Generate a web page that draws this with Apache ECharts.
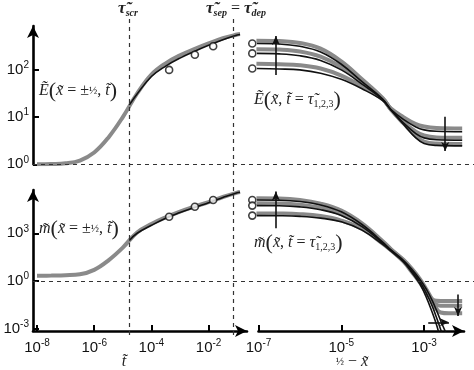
<!DOCTYPE html>
<html><head><meta charset="utf-8">
<script src="https://cdn.jsdelivr.net/npm/echarts@6/dist/echarts.min.js"></script>
<style>html,body{margin:0;padding:0;background:#fff}#c{width:474px;height:370px}</style>
</head><body><div id="c"></div>
<script>
// All values below are log10 exponents
const tauScr = -4.77, tauSep = -1.15;
const leftXTicks = [-8, -6, -4, -2];
const rightXTicks = [-7, -5, -3];
const topYTicks = [0, 1, 2];
const botYTicks = [-3, 0, 3];

// top-left: E(x = ±1/2, t)
const tlX     = [-8, -7.5, -7, -6.5, -6, -5.5, -5, -4.5, -4, -3.5, -3, -2.5, -2, -1.5, -1, -0.9];
const tlGray  = [0, 0.005, 0.02, 0.08, 0.25, 0.57, 1.0, 1.5, 1.9, 2.14, 2.31, 2.44, 2.56, 2.67, 2.75, 2.76];
const tlBlackX = [-4.77, -4.5, -4, -3.5, -3, -2.5, -2, -1.5, -1, -0.9];
const tlBlack  = [1.26, 1.49, 1.86, 2.08, 2.25, 2.39, 2.52, 2.64, 2.74, 2.75];
const tlCircX = [-3.38, -2.48, -1.84];
const tlCircY = [2.0, 2.32, 2.5];

// bottom-left: m(x = ±1/2, t)
const blX     = [-8, -7.5, -7, -6.5, -6, -5.5, -5, -4.5, -4, -3.5, -3, -2.5, -2, -1.5, -1, -0.9];
const blGray  = [0.33, 0.34, 0.36, 0.42, 0.7, 1.3, 2.1, 3.05, 3.58, 4.0, 4.36, 4.67, 4.96, 5.28, 5.56, 5.6];
const blBlackX = [-4.77, -4.5, -4, -3.5, -3, -2.5, -2, -1.5, -1, -0.9];
const blBlack  = [2.55, 3.0, 3.5, 3.95, 4.3, 4.62, 4.92, 5.25, 5.55, 5.58];
const blCircX = [-3.38, -2.48, -1.84];
const blCircY = [4.04, 4.67, 5.09];

// top-right: E(x, t = tau_1,2,3)
const trX = [-7.05, -6.5, -6, -5.5, -5, -4.5, -4, -3.8, -3.5, -3.2, -3, -2.7, -2.08];
const trBlack1 = [2.56, 2.55, 2.5, 2.38, 2.12, 1.75, 1.38, 1.15, 0.85, 0.56, 0.44, 0.40, 0.39];
const trBlack2 = [2.35, 2.34, 2.3, 2.2, 2.0, 1.7, 1.37, 1.15, 0.88, 0.65, 0.56, 0.52, 0.51];
const trBlack3 = [2.03, 2.02, 2.0, 1.93, 1.8, 1.6, 1.35, 1.16, 0.95, 0.79, 0.73, 0.70, 0.69];
const trGray1  = [2.62, 2.61, 2.57, 2.45, 2.18, 1.8, 1.4, 1.16, 0.87, 0.6, 0.48, 0.44, 0.43];
const trGray2  = [2.44, 2.43, 2.39, 2.28, 2.06, 1.74, 1.39, 1.16, 0.9, 0.69, 0.61, 0.57, 0.56];
const trGray3  = [2.13, 2.12, 2.1, 2.03, 1.88, 1.65, 1.38, 1.18, 1.0, 0.85, 0.8, 0.77, 0.76];
const trCircX = [-7.15, -7.15, -7.15];
const trCircY = [2.56, 2.35, 2.03];

// bottom-right: m(x, t = tau_1,2,3)
const brBlack1X = [-7.05, -6.5, -6, -5.5, -5, -4.5, -4, -3.8, -3.5, -3.3, -3.1, -2.95, -2.8, -2.7, -2.6, -2.5, -2.45];
const brBlack1  = [5.09, 5.08, 5.0, 4.78, 4.35, 3.55, 2.45, 1.95, 1.3, 0.75, 0.1, -0.5, -1.25, -1.85, -2.5, -3.1, -3.4];
const brBlack2X = [-7.05, -6.5, -6, -5.5, -5, -4.5, -4, -3.8, -3.5, -3.3, -3.1, -2.95, -2.8, -2.7, -2.6, -2.55];
const brBlack2  = [4.74, 4.73, 4.66, 4.48, 4.12, 3.42, 2.38, 1.92, 1.25, 0.65, -0.05, -0.75, -1.6, -2.3, -3.05, -3.4];
const brBlack3X = [-7.05, -6.5, -6, -5.5, -5, -4.5, -4, -3.8, -3.5, -3.3, -3.1, -2.95, -2.8, -2.7, -2.63];
const brBlack3  = [4.11, 4.10, 4.06, 3.95, 3.72, 3.2, 2.3, 1.88, 1.2, 0.55, -0.2, -1.0, -2.0, -2.75, -3.4];
const brGrayX = [-7.05, -6.5, -6, -5.5, -5, -4.5, -4, -3.8, -3.5, -3.3, -3.1, -2.95, -2.8, -2.7, -2.6, -2.4, -2.08];
const brGray1 = [5.2, 5.19, 5.1, 4.86, 4.42, 3.62, 2.5, 2.0, 1.33, 0.78, 0.12, -0.5, -1.2, -1.75, -1.98, -2.03, -2.03];
const brGray2 = [4.88, 4.87, 4.8, 4.6, 4.2, 3.5, 2.43, 1.97, 1.28, 0.68, 0.0, -0.65, -1.25, -1.5, -1.55, -1.55, -1.55];
const brGray3 = [4.25, 4.24, 4.2, 4.08, 3.8, 3.28, 2.35, 1.93, 1.23, 0.58, -0.1, -0.7, -1.15, -1.25, -1.26, -1.26, -1.26];
const brCircX = [-7.15, -7.15, -7.15];
const brCircY = [5.09, 4.74, 4.11];

// annotation arrows [fromX, fromY, toX, toY]
const trArrowUp   = [-6.58, 1.89, -6.58, 2.72];
const trArrowDown = [-2.49, 1.01, -2.49, 0.28];
const brArrowUp   = [-6.58, 3.32, -6.58, 5.62];
const brArrowDown = [-2.18, -0.85, -2.18, -2.2];
const brArrowRight = [-2.9, -2.6, -2.4, -2.6];

const pairs = (xs, ys) => xs.map((x, i) => [x, ys[i]]);
const GRAY = '#8a8a8a';
function gray(g, xs, ys) {
  return {type: 'line', xAxisIndex: g, yAxisIndex: g, data: pairs(xs, ys), showSymbol: false,
    smooth: 0.4, lineStyle: {color: GRAY, width: 4}, z: 2, silent: true};
}
function black(g, xs, ys) {
  return {type: 'line', xAxisIndex: g, yAxisIndex: g, data: pairs(xs, ys), showSymbol: false,
    smooth: 0.4, lineStyle: {color: '#111', width: 1.6}, z: 3, silent: true};
}
function circles(g, xs, ys) {
  return {type: 'scatter', xAxisIndex: g, yAxisIndex: g, data: pairs(xs, ys), symbol: 'circle', symbolSize: 7,
    itemStyle: {color: '#fff', borderColor: '#111', borderWidth: 1.6}, z: 5, clip: false, silent: true};
}
function arrow(g, a) {
  return {type: 'line', xAxisIndex: g, yAxisIndex: g, data: [], silent: true,
    markLine: {silent: true, symbol: ['none', 'arrow'], symbolSize: [6, 9], label: {show: false},
      lineStyle: {color: '#111', width: 1.6, type: 'solid'},
      data: [[{coord: [a[0], a[1]]}, {coord: [a[2], a[3]]}]]}};
}
const dash = {color: '#333', width: 1.2, type: [4, 4]};
function hline(g, y) {
  return {type: 'line', xAxisIndex: g, yAxisIndex: g, data: [], silent: true,
    markLine: {silent: true, symbol: ['none', 'none'], label: {show: false}, lineStyle: dash, data: [{yAxis: y}]}};
}
function vlines(g, xs) {
  return {type: 'line', xAxisIndex: g, yAxisIndex: g, data: [], silent: true,
    markLine: {silent: true, symbol: ['none', 'none'], label: {show: false}, lineStyle: dash, data: xs.map(x => ({xAxis: x}))}};
}

const tickRich = {
  b: {fontFamily: 'Liberation Sans', fontSize: 15, color: '#111'},
  s: {fontFamily: 'Liberation Sans', fontSize: 10, color: '#111', padding: [0, 0, 9, 0]}
};
const pow = v => '{b|10}{s|' + v + '}';
const axLine = {show: true, onZero: false, symbol: ['none', 'arrow'], symbolSize: [9, 12], lineStyle: {color: '#000', width: 2.6}};
function visAxis(extra, ticks, margin) {
  return Object.assign({type: 'value', axisLine: axLine, splitLine: {show: false},
    axisTick: {show: true, inside: true, length: 6, customValues: ticks, lineStyle: {color: '#000', width: 2}},
    axisLabel: {customValues: ticks, formatter: pow, rich: tickRich, margin: margin}}, extra);
}
function hidAxis(extra) {
  return Object.assign({type: 'value', show: false, axisLine: {onZero: false}, splitLine: {show: false}}, extra);
}

// pixel scale: left x 28.6 px/decade, right x 41.4 px/decade, top y 47.2 px/decade, bottom y 15.9 px/decade
const grids = [
  {left: 33, top: 26, width: 441, height: 138.3},      // 0 TL (extends right for dashed line)
  {left: 33, top: 190, width: 214, height: 141},       // 1 BL
  {left: 258.5, top: 26, width: 205.5, height: 138.3}, // 2 TR
  {left: 258.5, top: 190, width: 205.5, height: 141},  // 3 BR
  {left: 33, top: 15, width: 214, height: 320},        // 4 vertical guides
  {left: 33, top: 190, width: 441, height: 141}        // 5 bottom horizontal guide
];
const xAxes = [
  hidAxis({gridIndex: 0, min: -8.14, max: 7.28}),
  visAxis({gridIndex: 1, min: -8.14, max: -0.657}, leftXTicks, 7),
  hidAxis({gridIndex: 2, min: -7, max: -2.036}),
  visAxis({gridIndex: 3, min: -7, max: -2.036}, rightXTicks, 7),
  hidAxis({gridIndex: 4, min: -8.14, max: -0.657}),
  hidAxis({gridIndex: 5, min: 0, max: 1})
];
const yAxes = [
  visAxis({gridIndex: 0, min: 0, max: 2.93}, topYTicks, 4),
  visAxis({gridIndex: 1, min: -3.145, max: 5.72}, botYTicks, 4),
  hidAxis({gridIndex: 2, min: 0, max: 2.93}),
  hidAxis({gridIndex: 3, min: -3.145, max: 5.72}),
  hidAxis({gridIndex: 4, min: 0, max: 1}),
  hidAxis({gridIndex: 5, min: -3.145, max: 5.72})
];

const series = [
  hline(0, 0), hline(5, 0), vlines(4, [tauScr, tauSep]),
  gray(0, tlX, tlGray), black(0, tlBlackX, tlBlack), circles(0, tlCircX, tlCircY),
  gray(1, blX, blGray), black(1, blBlackX, blBlack), circles(1, blCircX, blCircY),
  gray(2, trX, trGray1), gray(2, trX, trGray2), gray(2, trX, trGray3),
  black(2, trX, trBlack1), black(2, trX, trBlack2), black(2, trX, trBlack3),
  circles(2, trCircX, trCircY), arrow(2, trArrowUp), arrow(2, trArrowDown),
  gray(3, brGrayX, brGray1), gray(3, brGrayX, brGray2), gray(3, brGrayX, brGray3),
  black(3, brBlack1X, brBlack1), black(3, brBlack2X, brBlack2), black(3, brBlack3X, brBlack3),
  circles(3, brCircX, brCircY), arrow(3, brArrowUp), arrow(3, brArrowDown), arrow(3, brArrowRight)
];

const SERIF = 'Liberation Serif';
const mathRich = {
  i: {fontFamily: SERIF, fontStyle: 'italic', fontSize: 16, fill: '#222'},
  n: {fontFamily: SERIF, fontSize: 16, fill: '#222'},
  p: {fontFamily: SERIF, fontSize: 22, fill: '#222'},
  f: {fontFamily: SERIF, fontSize: 11, fill: '#222'},
  sub: {fontFamily: SERIF, fontSize: 10, fill: '#222', padding: [8, 0, 0, 0]},
  t: {fontFamily: SERIF, fontStyle: 'italic', fontWeight: 'bold', fontSize: 17, fill: '#222'},
  ts: {fontFamily: SERIF, fontStyle: 'italic', fontWeight: 'bold', fontSize: 10, fill: '#222', padding: [8, 0, 0, 0]}
};
function txt(x, y, text, align) {
  return {type: 'text', x: x, y: y, silent: true, z: 10,
    style: {text: text, rich: mathRich, align: align || 'left', verticalAlign: 'middle', fill: '#222'}};
}
const graphic = [
  txt(39, 91, '{i|Ẽ}{p|(}{i|x̃}{n| = ±}{f|½}{n|, }{i|t̃}{p|)}'),
  txt(39, 229, '{i|m̃}{p|(}{i|x̃}{n| = ±}{f|½}{n|, }{i|t̃}{p|)}'),
  txt(254, 100, '{i|Ẽ}{p|(}{i|x̃}{n|, }{i|t̃}{n| = }{i|τ̃}{sub|1,2,3}{p|)}'),
  txt(254, 243, '{i|m̃}{p|(}{i|x̃}{n|, }{i|t̃}{n| = }{i|τ̃}{sub|1,2,3}{p|)}'),
  txt(128, 9, '{t|τ̃}{ts|scr}', 'center'),
  txt(236, 9, '{t|τ̃}{ts|sep}{n| = }{t|τ̃}{ts|dep}', 'center'),
  txt(124, 362, '{i|t̃}', 'center'),
  txt(352, 362, '{f|½}{n| − }{i|x̃}', 'center')
];

const chart = echarts.init(document.getElementById('c'), null, {renderer: 'canvas'});
chart.setOption({animation: false, backgroundColor: '#fff', grid: grids, xAxis: xAxes, yAxis: yAxes, series: series, graphic: graphic});
</script>
</body></html>
